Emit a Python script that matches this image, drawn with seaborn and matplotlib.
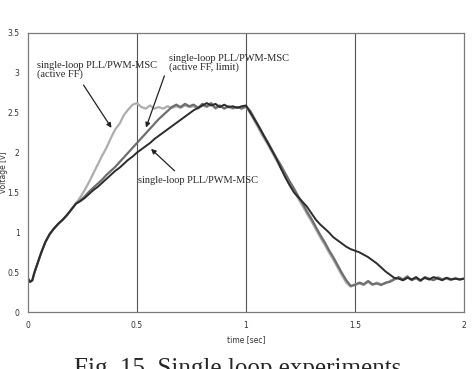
import numpy as np
import pandas as pd
import seaborn as sns
import matplotlib
matplotlib.use("Agg")
import matplotlib.pyplot as plt

# time axis shared by all three traces [sec]
t = [0.00, 0.01, 0.02, 0.03, 0.04, 0.06, 0.08, 0.10, 0.12, 0.14, 0.16, 0.18, 0.20, 0.22,
     0.24, 0.26, 0.28, 0.30, 0.32, 0.34, 0.36, 0.38, 0.40, 0.42, 0.44, 0.46, 0.48, 0.50,
     0.52, 0.54, 0.56, 0.58, 0.60, 0.62, 0.64, 0.66, 0.68, 0.70, 0.72, 0.74, 0.76, 0.78,
     0.80, 0.82, 0.84, 0.86, 0.88, 0.90, 0.92, 0.94, 0.96, 0.98, 1.00, 1.02, 1.04, 1.06,
     1.08, 1.10, 1.12, 1.14, 1.16, 1.18, 1.20, 1.22, 1.24, 1.26, 1.28, 1.30, 1.32, 1.34,
     1.36, 1.38, 1.40, 1.42, 1.44, 1.46, 1.48, 1.50, 1.52, 1.54, 1.56, 1.58, 1.60, 1.62,
     1.64, 1.66, 1.68, 1.70, 1.72, 1.74, 1.76, 1.78, 1.80, 1.82, 1.84, 1.86, 1.88, 1.90,
     1.92, 1.94, 1.96, 1.98, 2.00]

v_plain = [0.42, 0.38, 0.40, 0.50, 0.58, 0.74, 0.88, 0.98, 1.05, 1.11, 1.16, 1.22, 1.29, 1.36,
           1.39, 1.43, 1.48, 1.53, 1.57, 1.62, 1.67, 1.72, 1.77, 1.81, 1.86, 1.91, 1.95, 2.00,
           2.04, 2.08, 2.12, 2.17, 2.21, 2.25, 2.29, 2.33, 2.37, 2.41, 2.45, 2.49, 2.53, 2.56,
           2.59, 2.62, 2.59, 2.61, 2.57, 2.60, 2.57, 2.58, 2.56, 2.58, 2.59, 2.50, 2.41, 2.32,
           2.22, 2.12, 2.02, 1.92, 1.80, 1.69, 1.59, 1.50, 1.44, 1.38, 1.32, 1.24, 1.16, 1.10,
           1.05, 1.00, 0.94, 0.90, 0.86, 0.82, 0.79, 0.77, 0.75, 0.72, 0.69, 0.65, 0.61, 0.56,
           0.51, 0.47, 0.43, 0.42, 0.40, 0.43, 0.41, 0.44, 0.40, 0.43, 0.41, 0.44, 0.42, 0.40,
           0.43, 0.41, 0.42, 0.41, 0.42]

v_limit = [0.42, 0.38, 0.40, 0.50, 0.58, 0.74, 0.88, 0.98, 1.05, 1.11, 1.16, 1.22, 1.29, 1.36,
           1.40, 1.45, 1.51, 1.56, 1.61, 1.66, 1.72, 1.77, 1.82, 1.88, 1.94, 2.00, 2.06, 2.12,
           2.18, 2.24, 2.30, 2.36, 2.42, 2.47, 2.52, 2.57, 2.60, 2.57, 2.61, 2.58, 2.60, 2.56,
           2.61, 2.58, 2.62, 2.56, 2.59, 2.55, 2.58, 2.56, 2.57, 2.55, 2.58, 2.52, 2.42, 2.32,
           2.22, 2.13, 2.03, 1.93, 1.84, 1.74, 1.64, 1.55, 1.45, 1.36, 1.26, 1.17, 1.07, 0.97,
           0.88, 0.78, 0.69, 0.59, 0.49, 0.40, 0.33, 0.34, 0.37, 0.35, 0.39, 0.35, 0.36, 0.34,
           0.37, 0.38, 0.41, 0.44, 0.41, 0.45, 0.40, 0.43, 0.39, 0.44, 0.42, 0.40, 0.43, 0.41,
           0.43, 0.41, 0.42, 0.41, 0.42]

v_ff = [0.42, 0.38, 0.40, 0.50, 0.58, 0.74, 0.88, 0.98, 1.05, 1.11, 1.16, 1.22, 1.29, 1.36,
        1.44, 1.53, 1.63, 1.74, 1.85, 1.96, 2.06, 2.18, 2.29, 2.36, 2.47, 2.54, 2.60, 2.62,
        2.57, 2.55, 2.59, 2.55, 2.57, 2.55, 2.58, 2.56, 2.58, 2.56, 2.59, 2.57, 2.58, 2.55,
        2.59, 2.57, 2.60, 2.55, 2.58, 2.56, 2.57, 2.55, 2.57, 2.56, 2.57, 2.49, 2.39, 2.29,
        2.19, 2.10, 2.00, 1.90, 1.81, 1.71, 1.61, 1.52, 1.42, 1.33, 1.23, 1.14, 1.04, 0.94,
        0.85, 0.75, 0.66, 0.56, 0.46, 0.37, 0.32, 0.35, 0.36, 0.34, 0.38, 0.34, 0.37, 0.35,
        0.36, 0.39, 0.42, 0.43, 0.40, 0.44, 0.41, 0.42, 0.40, 0.43, 0.41, 0.42, 0.44, 0.41,
        0.42, 0.40, 0.43, 0.41, 0.42]

x_ticks = [0, 0.5, 1, 1.5, 2]
y_ticks = [0, 0.5, 1, 1.5, 2, 2.5, 3, 3.5]

sns.set_style("white")
serif = ["Liberation Serif", "DejaVu Serif"]

fig = plt.figure(figsize=(4.74, 3.69), dpi=100)
ax = fig.add_axes([0.059, 0.154, 0.920, 0.757])

sns.lineplot(x=t, y=v_ff, ax=ax, color="#adadad", lw=1.6)
sns.lineplot(x=t, y=v_limit, ax=ax, color="#6e6e6e", lw=1.6)
sns.lineplot(x=t, y=v_plain, ax=ax, color="#2c2c2c", lw=1.4)

ax.set_xlim(0, 2)
ax.set_ylim(0, 3.5)
ax.set_xticks(x_ticks)
ax.set_xticklabels(["0", "0.5", "1", "1.5", "2"])
ax.set_yticks(y_ticks)
ax.set_yticklabels(["0", "0.5", "1", "1.5", "2", "2.5", "3", "3.5"])
ax.tick_params(length=0, labelsize=5.5, colors="#333333", pad=6)
for s in ax.spines.values():
    s.set_color("#7a7a7a")
    s.set_linewidth(0.9)
for xv in [0.5, 1, 1.5]:
    ax.axvline(xv, color="#555555", lw=0.8, zorder=0)

ax.set_xlabel("time [sec]", fontsize=5.5, labelpad=4, color="#333333")
ax.set_ylabel("voltage [v]", fontsize=5.5, color="#333333")
ax.yaxis.set_label_coords(-0.045, 0.5)

arrow = dict(arrowstyle="-|>", color="#222222", lw=0.9, mutation_scale=7)
ax.annotate("single-loop PLL/PWM-MSC\n(active FF)", xy=(0.39, 2.28), xytext=(0.04, 3.03),
            fontsize=7.5, family=serif, va="center", ha="left", linespacing=0.95,
            arrowprops=dict(arrow, relpos=(0.36, 0.0)))
ax.annotate("single-loop PLL/PWM-MSC\n(active FF, limit)", xy=(0.537, 2.28), xytext=(0.645, 3.12),
            fontsize=7.5, family=serif, va="center", ha="left", linespacing=0.95,
            arrowprops=dict(arrow, relpos=(0.0, 0.45)))
ax.annotate("single-loop PLL/PWM-MSC", xy=(0.555, 2.07), xytext=(0.505, 1.65),
            fontsize=7.5, family=serif, va="center", ha="left",
            arrowprops=dict(arrow, relpos=(0.35, 1.0)))

# caption is cut off by the bottom edge in the source picture as well
fig.text(0.156, -0.016, "Fig. 15. Single loop experiments.", fontsize=18,
         family=serif, ha="left", va="baseline")

fig.savefig("out.png", dpi=100)
